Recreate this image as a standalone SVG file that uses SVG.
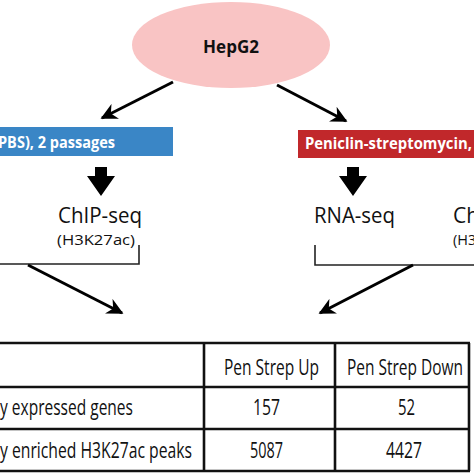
<svg xmlns="http://www.w3.org/2000/svg" width="474" height="474" viewBox="0 0 474 474">
<style>
.conn{stroke:#000;stroke-width:3;fill:none}
.br{stroke:#222;stroke-width:1.6;fill:none}
.lbl{font-family:"Open Sans","DejaVu Sans",sans-serif;fill:#111}
.bar{font-family:"Open Sans","DejaVu Sans",sans-serif;font-weight:bold;fill:#fff;font-size:15.5px}
.tbl{font-family:"Open Sans","Liberation Sans",sans-serif;fill:#111;font-size:22px}
.grid{stroke:#111;stroke-width:2.6}
</style>
<defs>
<marker id="ah" viewBox="0 0 10 10" refX="9" refY="5" markerWidth="5.5" markerHeight="5.5" orient="auto" markerUnits="strokeWidth">
<path d="M0,0 L10,5 L0,10 L3,5 z" fill="#000"/>
</marker>
</defs>
<rect width="474" height="474" fill="#fff"/>
<g id="hepg2">
<ellipse cx="231" cy="45" rx="99" ry="43" fill="#f9c4c4"/>
<text class="lbl" x="231" y="53" font-size="17" font-weight="bold" text-anchor="middle">HepG2</text>
</g>
<g id="pbs">
<rect x="-2" y="127" width="175" height="29" fill="#3a86c6"/>
<text class="bar" x="115" y="147.5" text-anchor="end" textLength="117" lengthAdjust="spacingAndGlyphs">PBS), 2 passages</text>
</g>
<g id="penstrep">
<rect x="298" y="130" width="180" height="28" fill="#c1282b"/>
<text class="bar" x="305" y="149" textLength="167" lengthAdjust="spacingAndGlyphs">Peniclin-streptomycin,</text>
</g>
<g id="chipseq-left">
<text class="lbl" x="58" y="223" font-size="21" textLength="84" lengthAdjust="spacingAndGlyphs">ChIP-seq</text>
<text class="lbl" x="57" y="245" font-size="14.5" textLength="78" lengthAdjust="spacingAndGlyphs">(H3K27ac)</text>
</g>
<g id="rnaseq">
<text class="lbl" x="314" y="223" font-size="21" textLength="81" lengthAdjust="spacingAndGlyphs">RNA-seq</text>
</g>
<g id="chipseq-right">
<text class="lbl" x="453" y="223" font-size="21">ChIP-seq</text>
<text class="lbl" x="453" y="245" font-size="14.5">(H3K27ac)</text>
</g>
<g id="connectors">
<line class="conn" x1="173" y1="82" x2="102" y2="118" marker-end="url(#ah)"/>
<line class="conn" x1="277" y1="85" x2="346" y2="121" marker-end="url(#ah)"/>
<path d="M95,167 H107 V176 H115 L101,196 L87,176 H95 Z" fill="#000"/>
<path d="M347,167 H359 V176 H367 L353,196 L339,176 H347 Z" fill="#000"/>
<path class="br" d="M139,245 V264 H-2"/>
<path class="br" d="M315,245 V265 H476"/>
<line class="conn" x1="28" y1="265" x2="122" y2="313" marker-end="url(#ah)"/>
<line class="conn" x1="413" y1="265" x2="320" y2="313" marker-end="url(#ah)"/>
</g>
<g id="table">
<line class="grid" x1="-2" y1="343" x2="470" y2="343"/>
<line class="grid" x1="-2" y1="387" x2="470" y2="387"/>
<line class="grid" x1="-2" y1="429" x2="470" y2="429"/>
<line class="grid" x1="-2" y1="471" x2="470" y2="471"/>
<line class="grid" x1="204" y1="343" x2="204" y2="471"/>
<line class="grid" x1="335" y1="343" x2="335" y2="471"/>
<line class="grid" x1="469" y1="343" x2="469" y2="471"/>
<text class="tbl" transform="translate(224,375) scale(0.75,1)" textLength="126.7" lengthAdjust="spacingAndGlyphs">Pen Strep Up</text>
<text class="tbl" transform="translate(347,375) scale(0.75,1)" textLength="154.7" lengthAdjust="spacingAndGlyphs">Pen Strep Down</text>
<text class="tbl" transform="translate(0,415) scale(0.75,1)" textLength="177.3" lengthAdjust="spacingAndGlyphs">y expressed genes</text>
<text class="tbl" transform="translate(0,458) scale(0.75,1)" textLength="256" lengthAdjust="spacingAndGlyphs">y enriched H3K27ac peaks</text>
<text class="tbl" transform="translate(253,415) scale(0.75,1)" textLength="36" lengthAdjust="spacingAndGlyphs">157</text>
<text class="tbl" transform="translate(398,415) scale(0.75,1)" textLength="22.7" lengthAdjust="spacingAndGlyphs">52</text>
<text class="tbl" transform="translate(250,458) scale(0.75,1)" textLength="44" lengthAdjust="spacingAndGlyphs">5087</text>
<text class="tbl" transform="translate(386,458) scale(0.75,1)" textLength="48" lengthAdjust="spacingAndGlyphs">4427</text>
</g>
</svg>
